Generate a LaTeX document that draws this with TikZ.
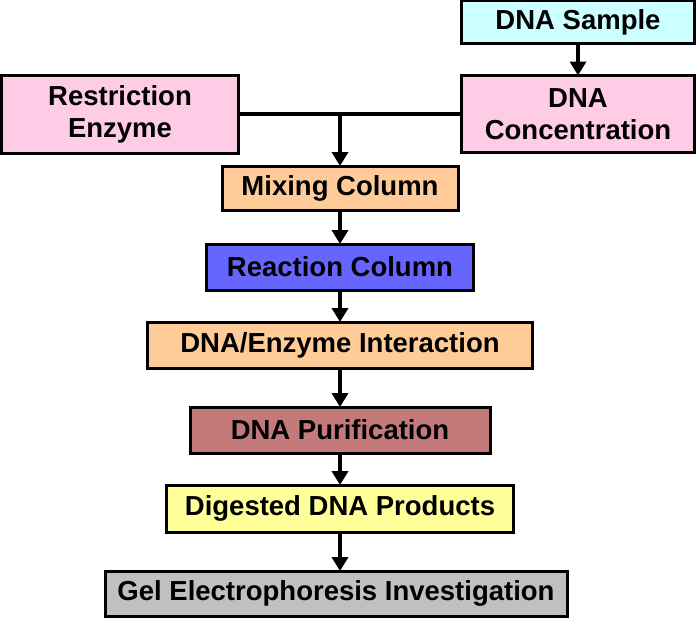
\documentclass[tikz,border=0pt]{standalone}
\usepackage{fontspec}
\setmainfont{Liberation Sans}
\usepackage{xcolor}
\usetikzlibrary{arrows.meta,positioning}

\definecolor{samplecyan}{HTML}{CCFFFF}
\definecolor{inputpink}{HTML}{FFCCE6}
\definecolor{stageorange}{HTML}{FFCC99}
\definecolor{reactblue}{HTML}{6666FF}
\definecolor{purifyred}{HTML}{C47A7A}
\definecolor{productyellow}{HTML}{FFFF99}
\definecolor{gelgrey}{HTML}{C0C0C0}

\begin{document}
\begin{tikzpicture}[
    x=1pt, y=1pt,
    node distance=33pt,
    box/.style={rectangle, draw, line width=3pt, outer sep=0pt, minimum height=46pt, text centered, align=center, inner sep=2pt, font=\bfseries\fontsize{27.5}{32}\selectfont},
    edge/.style={-{Triangle[width=16pt,length=14pt]}, line width=4pt},
    link/.style={line width=4pt}
]
    \useasboundingbox (0,0) rectangle (700,-619);

    \node[box, fill=samplecyan, minimum width=233pt, minimum height=43pt] (sample) at (578,-22) {DNA Sample};
    \node[box, fill=inputpink, minimum width=233pt, minimum height=77pt, below=32pt of sample] (conc) {DNA\\Concentration};
    \node[box, fill=inputpink, minimum width=237pt, minimum height=78pt] (enzyme) at (120,-114) {Restriction\\Enzyme};
    \coordinate (join) at (340,-114);

    \node[box, fill=stageorange, minimum width=236pt, minimum height=44pt, below=52pt of join] (mix) {Mixing Column};
    \node[box, fill=reactblue, minimum width=267pt, below=34pt of mix] (react) {Reaction Column};
    \node[box, fill=stageorange, minimum width=385pt, below=32pt of react] (interact) {DNA/Enzyme Interaction};
    \node[box, fill=purifyred, minimum width=300pt, below=39pt of interact] (purify) {DNA Purification};
    \node[box, fill=productyellow, minimum width=347pt, minimum height=47pt, below=32pt of purify] (digest) {Digested DNA Products};
    \node[box, fill=gelgrey, minimum width=462pt, minimum height=45pt, below=39pt of digest, xshift=-4pt] (gel) {Gel Electrophoresis Investigation};

    \draw[edge] (sample) -- (conc);
    \draw[link] (enzyme.east) -- (enzyme.east -| conc.west);
    \draw[edge] (join) -- (mix);
    \draw[edge] (mix) -- (react);
    \draw[edge] (react) -- (interact);
    \draw[edge] (interact) -- (purify);
    \draw[edge] (purify) -- (digest);
    \draw[edge] (digest) -- (digest.south |- gel.north);
\end{tikzpicture}
\end{document}
